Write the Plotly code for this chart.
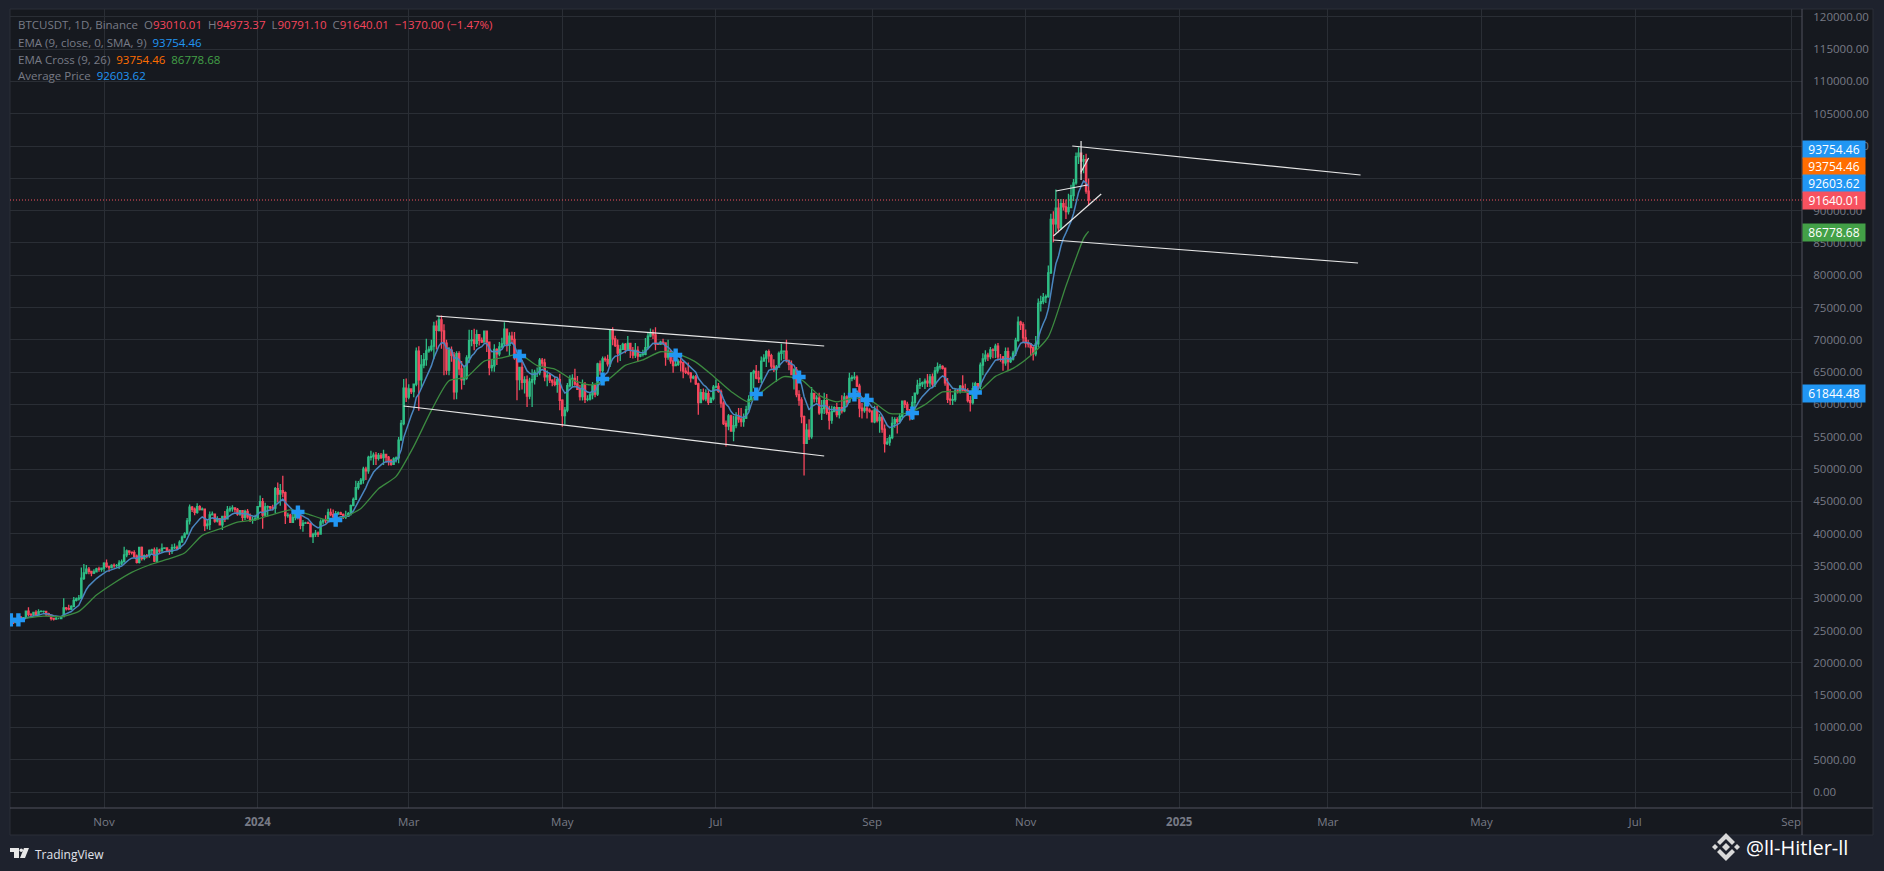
import pandas as pd
import plotly.graph_objects as go

# canvas / panel edges in screen px
WIDTH = 1884
HEIGHT = 871
PLOT_L = 10
PLOT_R = 1802
PLOT_T = 9
PLOT_B = 808
PANEL_R = 1873
PANEL_B = 835

PAGE_BG = '#1e222d'
CHART_BG = '#16191f'
GRID = '#2a2e35'
AXIS = '#50535e'
TEXT = '#787b86'
UP = '#2ebd85'
DOWN = '#f6465d'
BLUE = '#2196f3'
ORANGE = '#ff6d00'
GREEN = '#43a047'
FONT = 'Open Sans'

# daily candles 2023-09-25 .. 2024-11-26, one row per month
closes = [
    26300, 26210, 26350, 27030, 26905, 26970,
    27990, 27500, 27430, 27790, 27410, 27930, 27950, 27970, 27590, 27390, 26870, 26760, 26860, 26860, 27160, 28500, 28400, 28330, 28720, 29670, 29910, 29990, 33090, 33900, 34500, 34150, 33900, 34090, 34530, 34480, 34650,
    35420, 34940, 34730, 35080, 35040, 35050, 35420, 35620, 36700, 37320, 37130, 37060, 36490, 35550, 37880, 36160, 36590, 36580, 37390, 37470, 35750, 37420, 37290, 37720, 37790, 37450, 37240, 37820, 37850, 37710,
    38680, 39460, 39970, 41980, 44080, 43770, 43290, 44170, 43720, 43790, 41240, 41450, 42890, 43020, 41940, 42260, 41370, 42660, 42270, 43650, 43860, 43990, 43740, 43010, 43570, 42510, 43440, 42580, 42070, 42140, 42280,
    44180, 44950, 42850, 44150, 44160, 43970, 43930, 46960, 46110, 46630, 46340, 42780, 42840, 41730, 42510, 43140, 42740, 41260, 41620, 41660, 41580, 39530, 39890, 40080, 39930, 41810, 42120, 42030, 43300, 42940, 42580,
    43080, 43190, 42990, 42580, 42660, 43090, 44340, 45290, 47130, 47750, 48290, 49960, 49700, 51800, 51910, 52130, 51640, 52120, 51780, 52260, 51850, 51300, 50730, 51570, 51730, 54480, 57040, 62500, 61130,
    62390, 61990, 63130, 68250, 63800, 66100, 66930, 68300, 68500, 69020, 72120, 71480, 73080, 71390, 69500, 65300, 68390, 67610, 61940, 67840, 65500, 63800, 64090, 67210, 69880, 69990, 69460, 70780, 69900, 69650, 71330,
    69650, 65710, 65980, 68510, 67840, 68900, 69360, 71630, 69150, 70580, 70060, 67190, 63820, 65740, 63420, 63790, 61280, 63470, 63820, 64940, 64940, 66840, 66410, 64280, 64500, 63770, 63460, 63120, 63840, 60640,
    58250, 59120, 62890, 63890, 64030, 63160, 62330, 61190, 63070, 60790, 60820, 61480, 62940, 61580, 66270, 65230, 67050, 66940, 66270, 71450, 70140, 69120, 67930, 68530, 69290, 68510, 69430, 68370, 67630, 68360, 67490,
    67750, 67760, 68800, 70570, 71080, 70760, 69340, 69310, 69650, 69510, 67320, 68240, 66750, 66010, 66190, 66640, 66490, 65140, 64960, 64830, 64100, 64250, 63180, 60280, 61800, 60860, 61670, 60320, 60890, 62680,
    62770, 62020, 60200, 57040, 56640, 58230, 55850, 56710, 58050, 57720, 57340, 57890, 59200, 60790, 64870, 65090, 64090, 63970, 66710, 67150, 68160, 67530, 65930, 65370, 65780, 67900, 68240, 68250, 66780, 66190, 64620,
    65350, 61500, 60680, 58110, 53990, 56030, 55030, 61710, 60880, 60950, 58710, 59350, 60600, 58740, 57560, 58870, 59490, 58440, 59490, 59010, 61160, 60380, 64040, 64160, 64220, 62830, 59420, 59030, 59370, 59120, 58970,
    57300, 59130, 57480, 57970, 56160, 53950, 54160, 54870, 57050, 57640, 57340, 58130, 60500, 60000, 59180, 58210, 60310, 61760, 62950, 63200, 63350, 63580, 63340, 64260, 63140, 65180, 65800, 65880, 65600, 63330,
    60800, 60650, 60750, 62080, 62060, 62820, 62220, 62130, 60580, 60270, 62450, 63200, 62850, 66080, 67040, 67610, 67400, 68430, 68360, 69000, 67360, 67360, 66430, 68170, 66630, 67010, 67930, 69910, 72720, 72340, 70290,
    69490, 69370, 68780, 67810, 69360, 75640, 75900, 76540, 76680, 80370, 88650, 87950, 90370, 87330, 91060, 90580, 89850, 90460, 92310, 94290, 98350, 98890, 97670, 97900, 93010, 91640,
]
highs = [
    26430, 26390, 26820, 27300, 27230, 27080,
    28060, 28580, 27670, 27830, 28130, 28290, 28120, 28100, 27990, 27740, 27480, 26940, 27110, 26980, 27290, 30000, 28620, 28980, 28920, 30200, 30100, 30490, 34740, 35280, 35130, 34830, 34240, 34480, 34730, 34860, 34720,
    35580, 35980, 34950, 35270, 35380, 35280, 35890, 35990, 37970, 37530, 37400, 37230, 37420, 36760, 37980, 37990, 36780, 36850, 37520, 37650, 37860, 37900, 37650, 38450, 37900, 37830, 37590, 38370, 38450, 38170,
    38980, 39710, 40220, 42420, 44490, 44280, 44050, 44700, 44370, 44050, 43810, 42110, 43430, 43420, 43090, 42700, 42430, 42760, 43500, 44280, 44230, 44380, 44020, 43950, 43650, 43600, 43680, 43810, 43120, 42600, 42900,
    44220, 45880, 45500, 44770, 44340, 44230, 44480, 47220, 47900, 47690, 48970, 46500, 43230, 43060, 43400, 43570, 43200, 42930, 42120, 41840, 41860, 41680, 40130, 40550, 40330, 42200, 42240, 42840, 43830, 43880, 43740,
    43480, 43420, 43380, 43120, 43530, 43360, 44520, 45600, 48200, 48160, 48590, 50330, 50360, 52040, 52820, 52570, 52650, 52480, 52480, 52990, 52370, 52000, 51550, 51820, 51950, 54940, 57590, 63930, 64000,
    63110, 62450, 63230, 68800, 69000, 67640, 67950, 70170, 69000, 70000, 72800, 72970, 73650, 73780, 72420, 70000, 68900, 68970, 68100, 68240, 68240, 66700, 65980, 67620, 71560, 71500, 71730, 71550, 70900, 70350, 71370,
    71370, 69700, 66900, 69300, 68700, 69650, 70300, 72700, 71750, 71170, 71250, 71200, 67900, 65830, 66880, 64350, 64470, 64130, 65450, 65380, 65700, 67200, 67200, 67070, 65250, 64790, 63900, 64370, 64240, 64730,
    60780, 59600, 63320, 64500, 64650, 65500, 64400, 63000, 63850, 63450, 61430, 61820, 63450, 63100, 66440, 66800, 67400, 67400, 67700, 71500, 71950, 70640, 70050, 69200, 69550, 69500, 70600, 69500, 68900, 69500, 69000,
    67850, 68450, 70280, 71050, 71750, 71600, 71950, 69560, 69850, 70150, 69550, 70000, 68400, 67300, 66800, 67000, 67300, 66500, 65700, 66500, 65000, 64500, 64550, 63350, 62400, 62450, 62350, 62200, 61200, 63000,
    63850, 63300, 62300, 60500, 57500, 58500, 58400, 58250, 58800, 59450, 59450, 58600, 59800, 61400, 65000, 65380, 66100, 65200, 67400, 67750, 68400, 68500, 67850, 67000, 66100, 68200, 69400, 68350, 70000, 66950, 66800,
    65600, 65800, 62200, 61100, 58300, 57000, 57700, 62700, 61800, 61400, 61800, 60700, 61800, 61600, 59800, 59800, 59700, 60200, 59600, 61400, 61800, 61400, 64900, 64500, 65000, 64500, 63200, 60200, 61100, 59900, 59400,
    59100, 59800, 59800, 58500, 58300, 56900, 54800, 55300, 58100, 58000, 58000, 58600, 60600, 60650, 60400, 59200, 61300, 61800, 63800, 64100, 63550, 64000, 64700, 64700, 64800, 65800, 66500, 66250, 66050, 65550,
    64100, 62400, 61500, 62500, 62400, 63000, 64500, 63200, 62500, 61300, 63400, 63500, 63250, 66500, 67900, 68400, 68000, 68900, 68700, 69400, 69500, 67800, 67500, 68800, 68800, 67400, 68300, 70300, 73620, 72950, 72700,
    71600, 70000, 69500, 69000, 70600, 76400, 76800, 77250, 77000, 81500, 89500, 89900, 93260, 91800, 91800, 91800, 91700, 92600, 94000, 94900, 99000, 99800, 98800, 98600, 98800, 94973,
]
lows = [
    26000, 26020, 26110, 26340, 26680, 26680,
    26950, 27160, 27150, 27210, 27260, 27360, 27860, 27740, 27260, 27300, 26550, 26560, 26700, 26810, 26830, 27110, 28100, 28130, 28170, 28600, 29470, 29660, 29880, 32830, 33700, 33720, 33400, 33750, 34070, 34090, 34100,
    34100, 34700, 34100, 34580, 34720, 34750, 34530, 35110, 35600, 36330, 36700, 36750, 36340, 35360, 35360, 35830, 35880, 36200, 36280, 36700, 35620, 35620, 36870, 37600, 37600, 37150, 36700, 36860, 37600, 37500,
    37620, 38640, 39280, 39970, 41420, 43340, 42840, 43080, 43580, 43580, 40400, 40680, 40560, 42820, 41680, 41700, 41250, 40560, 41810, 42210, 43300, 43400, 43300, 42770, 42770, 41850, 42100, 42300, 41800, 41520, 41980,
    42200, 44210, 40750, 42630, 42630, 43580, 43630, 43200, 44800, 44300, 45610, 41500, 42440, 41720, 41720, 42050, 42200, 40680, 40280, 41500, 41500, 39430, 38550, 39480, 39480, 39820, 41400, 41620, 41800, 42680, 42280,
    41880, 42880, 42880, 42250, 42260, 42570, 42800, 44330, 45230, 46800, 47560, 47710, 48300, 49250, 51320, 50620, 50630, 51300, 51530, 50620, 50950, 50530, 50520, 50600, 51000, 50900, 54450, 56770, 60370,
    60780, 61600, 61100, 62800, 59000, 62400, 65600, 66000, 68000, 68200, 67000, 68500, 71300, 68600, 64500, 64600, 64500, 66600, 60760, 60800, 64500, 62300, 63000, 63800, 66400, 69000, 68400, 68900, 69100, 69500, 69600,
    68100, 64500, 65100, 65050, 66100, 67450, 68700, 69040, 68200, 67500, 69600, 66900, 60660, 62200, 62300, 61700, 59600, 60800, 59600, 63100, 64250, 64500, 65800, 63600, 62800, 63300, 62800, 62800, 61800, 59100,
    56550, 56900, 58800, 62600, 62650, 62900, 62240, 60600, 60600, 60200, 60500, 60600, 60800, 61100, 61300, 64600, 64900, 66600, 65850, 65800, 69150, 68900, 66500, 66700, 68500, 67900, 68250, 67200, 67100, 67200, 66600,
    67300, 67400, 67600, 68500, 70400, 70120, 68400, 69200, 69200, 69200, 66000, 66900, 66300, 64900, 65900, 65950, 65100, 64050, 64700, 64500, 63400, 63900, 63000, 58400, 60600, 60600, 60500, 59900, 60600, 60600,
    62500, 61800, 59500, 56800, 53500, 56000, 55750, 54300, 56300, 57150, 56550, 56550, 57750, 59200, 60600, 62500, 63900, 63300, 63300, 66700, 65800, 66500, 65500, 65000, 63500, 65800, 66800, 67000, 66500, 65300, 64500,
    62300, 61100, 59800, 57100, 49000, 53900, 54500, 54700, 60300, 60300, 58400, 57600, 58500, 58400, 56100, 57000, 58800, 58000, 57800, 58600, 58800, 59800, 60200, 63600, 63800, 62700, 58000, 57800, 58700, 57800, 58700,
    57200, 57100, 57200, 55600, 55600, 52550, 53700, 53600, 54600, 56400, 55500, 57300, 57650, 59450, 58700, 57500, 57600, 59200, 61500, 62400, 62700, 62400, 62700, 62700, 62700, 62700, 64800, 65400, 65400, 62900,
    60200, 59900, 59900, 60400, 61700, 61700, 62000, 61900, 60300, 58900, 60000, 62400, 62000, 62400, 64500, 66600, 66700, 67000, 67150, 67200, 66800, 66600, 65200, 66000, 65200, 66400, 66800, 67500, 69700, 71500, 69500,
    68800, 68800, 67500, 66800, 67450, 68800, 74400, 75500, 75700, 76500, 80200, 85100, 86600, 86600, 87000, 90000, 88700, 89400, 90500, 91500, 94000, 97200, 95700, 95800, 92600, 90791,
]
assert len(closes) == len(highs) == len(lows)

# EMA 9 daily from 2023-09-26
ema9 = [
    26360, 26360, 26490, 26570, 26650,
    26920, 27040, 27120, 27250, 27280, 27410, 27520, 27610, 27600, 27560, 27420, 27290, 27200, 27130, 27140, 27410, 27610, 27750, 27940, 28290, 28610, 28890, 29730, 30560, 31350, 31910, 32310, 32670, 33040, 33330, 33590,
    33960, 34160, 34270, 34430, 34550, 34650, 34800, 34960, 35310, 35710, 35990, 36200, 36260, 36120, 36470, 36410, 36450, 36480, 36660, 36820, 36610, 36770, 36880, 37040, 37190, 37240, 37240, 37360, 37460, 37510,
    37740, 38080, 38460, 39170, 40150, 40870, 41350, 41910, 42270, 42570, 42300, 42130, 42280, 42430, 42330, 42320, 42130, 42240, 42250, 42530, 42800, 43040, 43180, 43150, 43230, 43090, 43160, 43040, 42850, 42710, 42620,
    42930, 43330, 43230, 43410, 43560, 43640, 43700, 44350, 44700, 45090, 45340, 44830, 44430, 43890, 43610, 43520, 43360, 42940, 42680, 42480, 42300, 41750, 41380, 41120, 40880, 41070, 41280, 41430, 41800, 42030, 42140,
    42330, 42500, 42600, 42600, 42610, 42710, 43040, 43490, 44220, 44920, 45600, 46470, 47120, 48060, 48830, 49490, 49920, 50360, 50640, 50960, 51140, 51170, 51080, 51180, 51290, 51930, 52950, 54860, 56110,
    57370, 58290, 59260, 61060, 61610, 62510, 63390, 64370, 65200, 65960, 67200, 68060, 69060, 69530, 69520, 68680, 68620, 68420, 67120, 67260, 66900, 66280, 65840, 66110, 66870, 67490, 67880, 68460, 68750, 68930, 69410,
    69460, 68710, 68160, 68230, 68150, 68300, 68510, 69130, 69130, 69420, 69550, 69080, 68030, 67570, 66740, 66150, 65180, 64840, 64640, 64700, 64750, 65170, 65420, 65190, 65050, 64800, 64530, 64250, 64170, 63460,
    62420, 61760, 61980, 62360, 62690, 62780, 62690, 62390, 62530, 62180, 61910, 61820, 62040, 61950, 62810, 63300, 64050, 64630, 64960, 66260, 67040, 67460, 67550, 67750, 68060, 68150, 68410, 68400, 68250, 68270, 68110,
    68040, 67980, 68150, 68630, 69120, 69450, 69430, 69400, 69450, 69460, 69030, 68870, 68450, 67960, 67610, 67420, 67230, 66810, 66440, 66120, 65720, 65430, 64980, 64040, 63590, 63040, 62770, 62280, 62000, 62140,
    62270, 62220, 61820, 60860, 60010, 59650, 58890, 58450, 58370, 58240, 58060, 58030, 58260, 58770, 60000, 61020, 61630, 62100, 63020, 63850, 64710, 65270, 65400, 65390, 65470, 65960, 66410, 66780, 66780, 66660, 66250,
    66070, 65160, 64260, 63030, 61220, 60180, 59150, 59660, 59900, 60110, 59830, 59730, 59900, 59670, 59250, 59170, 59230, 59070, 59150, 59120, 59530, 59700, 60570, 61290, 61880, 62070, 61540, 61040, 60700, 60380, 60100,
    59540, 59460, 59060, 58840, 58300, 57430, 56780, 56400, 56530, 56750, 56870, 57120, 57800, 58240, 58430, 58390, 58770, 59370, 60090, 60710, 61240, 61710, 62040, 62480, 62610, 63130, 63660, 64100, 64400, 64180,
    63500, 62930, 62490, 62410, 62340, 62440, 62400, 62350, 62000, 61650, 61810, 62090, 62240, 63010, 63820, 64580, 65140, 65800, 66310, 66850, 66950, 67030, 66910, 67160, 67050, 67040, 67220, 67760, 68750, 69470, 69630,
    69600, 69550, 69400, 69080, 69140, 70440, 71530, 72530, 73360, 74760, 77540, 79620, 81770, 82880, 84520, 85730, 86550, 87330, 88330, 89520, 91280, 92800, 93770, 94600, 94280, 93754.46,
]
assert len(ema9) == len(closes) - 1

# EMA 26 weekly vertices from 2023-10-01, then the last two days
ema26 = [
    26900, 27230, 27150, 27960, 30480, 32360, 34000, 35140, 36010, 37000, 39730, 40740, 41760, 42140,
    42940, 43680, 43020, 42160, 42490, 43900, 46940, 48860, 53500, 59070, 63660, 64220, 66710, 67200,
    67780, 66000, 65460, 63810, 63020, 63800, 66050, 66900, 68150, 67800, 66550, 64370, 62010, 60380,
    62510, 64300, 63800, 61390, 60400, 61020, 60470, 58610, 58650, 59960, 61930, 61920, 61950, 64340,
    65570, 67580, 70460, 78340, 85700, 86300, 86778.68,
]
ema26_dates = list(pd.date_range('2023-10-01', periods=len(ema26) - 2, freq='7D')) + [
    pd.Timestamp('2024-11-25'), pd.Timestamp('2024-11-26')]

# EMA cross markers
cross_dates = ['2023-09-25', '2023-09-28', '2024-01-17', '2024-02-01', '2024-04-14', '2024-05-17', '2024-06-15',
               '2024-07-17', '2024-08-03', '2024-08-25', '2024-08-30', '2024-09-17', '2024-10-12']
cross_prices = [26630, 26630, 43340, 42100, 67490, 63930, 67650, 61610, 64240, 61460, 60680, 58670, 61844]

# drawn trendlines
trend_dates = [
    ['2024-03-12', '2024-08-13'],
    ['2024-02-28', '2024-08-13'],
    ['2024-11-19 12:00', '2025-03-14'],
    ['2024-11-12', '2025-03-13'],
    ['2024-11-12', '2024-12-01'],
    ['2024-11-13', '2024-11-25 12:00'],
    ['2024-11-23', '2024-11-26'],
    ['2024-11-23', '2024-11-23'],
]
trend_prices = [
    [73685, 69040],
    [59750, 52010],
    [100000, 95510],
    [85450, 81890],
    [86070, 92570],
    [93035, 93960],
    [95980, 98140],
    [100775, 94740],
]

# axis ticks
price_ticks = list(range(0, 120001, 5000))
price_labels = [f'{p}.00' for p in price_ticks]
month_ticks = ['2023-11-01', '2024-01-01', '2024-03-01', '2024-05-01', '2024-07-01', '2024-09-01',
               '2024-11-01', '2025-01-01', '2025-03-01', '2025-05-01', '2025-07-01', '2025-09-01']
month_labels = ['Nov', '<b>2024</b>', 'Mar', 'May', 'Jul', 'Sep', 'Nov', '<b>2025</b>', 'Mar', 'May', 'Jul', 'Sep']

# right-hand price tags: text, colour, centre y in px
tag_texts = ['93754.46', '93754.46', '92603.62', '91640.01', '86778.68', '61844.48']
tag_colors = [BLUE, ORANGE, BLUE, '#f7525f', GREEN, BLUE]
tag_ys = [149.5, 166.5, 183.5, 200.5, 232.5, 393]

last_price = 91640.01


def px(x):
    return (x - PLOT_L) / (PLOT_R - PLOT_L)


def py(y):
    return (PLOT_B - y) / (PLOT_B - PLOT_T)


def poly(points, color):
    path = 'M ' + ' L '.join(f'{px(x):.5f} {py(y):.5f}' for x, y in points) + ' Z'
    return dict(type='path', xref='paper', yref='paper', path=path, fillcolor=color, line_width=0, layer='above')


def span(text, color):
    return f'<span style="color:{color}">{text}</span>'


dates = pd.date_range('2023-09-25', periods=len(closes), freq='D')
opens = [closes[0]] + closes[:-1]

fig = go.Figure()
fig.add_trace(go.Candlestick(
    x=dates, open=opens, high=highs, low=lows, close=closes,
    increasing=dict(line=dict(color=UP, width=1.3), fillcolor=UP),
    decreasing=dict(line=dict(color=DOWN, width=1.3), fillcolor=DOWN),
    whiskerwidth=0, showlegend=False, hoverinfo='skip',
))
fig.add_trace(go.Scatter(x=dates[1:], y=ema9, mode='lines', line=dict(color='#4a86c0', width=1.5),
                         showlegend=False, hoverinfo='skip'))
fig.add_trace(go.Scatter(x=ema26_dates, y=ema26, mode='lines',
                         line=dict(color='#3c8a40', width=1.3, shape='spline', smoothing=0.6),
                         showlegend=False, hoverinfo='skip'))
fig.add_trace(go.Scatter(x=cross_dates, y=cross_prices, mode='markers',
                         marker=dict(symbol='cross', size=11, color=BLUE, line_width=0),
                         showlegend=False, hoverinfo='skip'))
for tx, ty in zip(trend_dates, trend_prices):
    fig.add_trace(go.Scatter(x=tx, y=ty, mode='lines', line=dict(color='#e6e6e6', width=1.2),
                             showlegend=False, hoverinfo='skip'))

shapes = [
    dict(type='rect', xref='paper', yref='paper', x0=px(PLOT_L), x1=px(PANEL_R), y0=py(PANEL_B), y1=py(PLOT_T),
         fillcolor=CHART_BG, line=dict(color='#2a2e39', width=1), layer='below'),
    dict(type='line', xref='paper', yref='paper', x0=px(PLOT_L), x1=px(PANEL_R), y0=0, y1=0,
         line=dict(color=AXIS, width=1), layer='above'),
    dict(type='line', xref='paper', yref='paper', x0=1, x1=1, y0=py(PANEL_B), y1=1,
         line=dict(color=AXIS, width=1), layer='above'),
    dict(type='line', xref='paper', yref='y', x0=0, x1=1, y0=last_price, y1=last_price,
         line=dict(color='#f7525f', width=1, dash='1px,2px'), layer='above'),
    # TradingView logo
    poly([(10, 848), (19, 848), (19, 858), (14, 858), (14, 852), (10, 852)], '#e8e8e8'),
    poly([(24, 848), (29, 848), (25, 858), (20, 858)], '#e8e8e8'),
    dict(type='circle', xref='paper', yref='paper', x0=px(19.5), x1=px(23), y0=py(852), y1=py(848.5),
         fillcolor='#e8e8e8', line_width=0, layer='above'),
    # Binance logo
    poly([(1726, 833), (1735, 842), (1732, 845), (1726, 839), (1720, 845), (1717, 842)], '#d9d9d9'),
    poly([(1726, 861), (1735, 852), (1732, 849), (1726, 855), (1720, 849), (1717, 852)], '#d9d9d9'),
    poly([(1712, 847), (1715, 844), (1718, 847), (1715, 850)], '#d9d9d9'),
    poly([(1734, 847), (1737, 844), (1740, 847), (1737, 850)], '#d9d9d9'),
    poly([(1726, 843), (1730, 847), (1726, 851), (1722, 847)], '#d9d9d9'),
]

# legend block top left
nb = '\u00a0'
legend_lines = [
    'BTCUSDT, 1D, Binance' + nb * 2 + 'O' + span('93010.01', DOWN) + nb * 2 + 'H' + span('94973.37', DOWN)
    + nb * 2 + 'L' + span('90791.10', DOWN) + nb * 2 + 'C' + span('91640.01', DOWN)
    + nb * 2 + span('\u22121370.00 (\u22121.47%)', DOWN),
    'EMA (9, close, 0, SMA, 9)' + nb * 2 + span('93754.46', BLUE),
    'EMA Cross (9, 26)' + nb * 2 + span('93754.46', ORANGE) + nb * 2 + span('86778.68', GREEN),
    'Average Price' + nb * 2 + span('92603.62', BLUE),
]
annotations = []
for i, line in enumerate(legend_lines):
    annotations.append(dict(xref='paper', yref='paper', x=px(16), y=py(25 + i * 17), text=line, showarrow=False,
                            xanchor='left', yanchor='middle', align='left', font=dict(family=FONT, size=11.5, color=TEXT)))
for text, color, y in zip(tag_texts, tag_colors, tag_ys):
    annotations.append(dict(xref='paper', yref='paper', x=px(1802), y=py(y), text=text, showarrow=False,
                            xanchor='left', yanchor='middle', width=62, height=17, borderpad=0, bgcolor=color,
                            font=dict(family=FONT, size=12, color='#ffffff')))
annotations.append(dict(xref='paper', yref='paper', x=px(33), y=py(854), text='TradingView', showarrow=False,
                        xanchor='left', yanchor='middle', font=dict(family=FONT, size=12, color='#e0e3eb')))
annotations.append(dict(xref='paper', yref='paper', x=px(1744), y=py(848), text='@ll-Hitler-ll', showarrow=False,
                        xanchor='left', yanchor='middle', font=dict(family=FONT, size=20, color='#ffffff')))

fig.update_layout(
    width=WIDTH, height=HEIGHT,
    margin=dict(l=PLOT_L, r=WIDTH - PLOT_R, t=PLOT_T, b=HEIGHT - PLOT_B, autoexpand=False),
    paper_bgcolor=PAGE_BG, plot_bgcolor=CHART_BG,
    font=dict(family=FONT, size=11.5, color=TEXT),
    showlegend=False, shapes=shapes, annotations=annotations,
    xaxis=dict(type='date', range=['2023-09-24 16:00', '2025-09-05 07:00'], rangeslider=dict(visible=False),
               tickmode='array', tickvals=month_ticks, ticktext=month_labels, showgrid=True, gridcolor=GRID,
               gridwidth=1, zeroline=False, showline=False, ticks='outside', ticklen=3, tickcolor=CHART_BG,
               tickangle=0),
    yaxis=dict(side='right', range=[-2477, 121208], tickmode='array', tickvals=price_ticks, ticktext=price_labels,
               showgrid=True, gridcolor=GRID, gridwidth=1, zeroline=False, showline=False, ticks='outside',
               ticklen=8, tickcolor=CHART_BG),
)

fig.write_html("out.html", config=dict(displayModeBar=False),
               post_script="document.body.style.margin='0';document.body.style.overflow='hidden';")
